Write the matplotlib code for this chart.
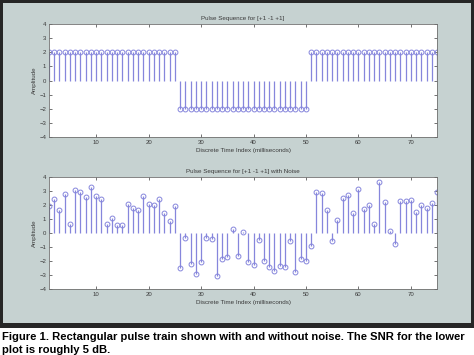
import numpy as np
import matplotlib
matplotlib.use('Agg')
from matplotlib import pyplot as plt
from matplotlib.patches import Rectangle

n = np.arange(1, 76)
clean = [2] * 25 + [-2] * 25 + [2] * 25
noisy = [1.9, 2.45, 1.67, 2.8, 0.64, 3.1, 2.9, 2.55, 3.3, 2.67,
         2.43, 0.64, 1.1, 0.6, 0.6, 2.1, 1.8, 1.67, 2.67, 2.1,
         2.0, 2.43, 1.43, 0.88, 1.95, -2.5, -0.33, -2.2, -2.93, -2.07,
         -0.36, -0.43, -3.05, -1.86, -1.74, 0.29, -1.67, 0.07, -2.1, -2.26,
         -0.48, -2.02, -2.43, -2.74, -2.33, -2.43, -0.55, -2.81, -1.83, -2.02,
         -0.95, 2.93, 2.86, 1.62, -0.6, 0.95, 2.5, 2.74, 1.43, 3.17,
         1.71, 2.02, 0.64, 3.62, 2.21, 0.17, -0.76, 2.26, 2.26, 2.33,
         1.5, 2.02, 1.79, 2.14, 2.93]

titles = ['Pulse Sequence for [+1 -1 +1]', 'Pulse Sequence for [+1 -1 +1] with Noise']
xticks = [10, 20, 30, 40, 50, 60, 70]
yticks = [-4, -3, -2, -1, 0, 1, 2, 3, 4]

plt.rcParams['font.family'] = ['Liberation Sans', 'DejaVu Sans']
fig = plt.figure(figsize=(4.74, 3.55), dpi=100)
fig.patch.set_facecolor('white')

# dark frame and grey figure panel of the scan
fig.add_artist(Rectangle((0, 0.076), 1, 0.924, transform=fig.transFigure,
                         facecolor='#262626', edgecolor='none', zorder=-2))
fig.add_artist(Rectangle((3 / 474, 0.0901), 468 / 474, 320 / 355, transform=fig.transFigure,
                         facecolor='#c6d2d1', edgecolor='none', zorder=-1))

stem_col = '#8686dc'
txt_col = '#3a3a3a'
positions = [[0.1034, 0.614, 0.8186, 0.318], [0.1034, 0.186, 0.8186, 0.3155]]

for pos, data, title in zip(positions, [clean, noisy], titles):
    ax = fig.add_axes(pos)
    ax.set_facecolor('white')
    ml, sl, bl = ax.stem(n, data, linefmt='-', markerfmt='o', basefmt=' ')
    plt.setp(sl, color=stem_col, linewidth=0.9)
    plt.setp(ml, markerfacecolor='none', markeredgecolor=stem_col,
             markersize=3.5, markeredgewidth=0.7)
    ax.set_xlim(1, 75)
    ax.set_ylim(-4, 4)
    ax.set_xticks(xticks)
    ax.set_yticks(yticks)
    ax.tick_params(direction='in', length=2, width=0.5, labelsize=4.3,
                   colors=txt_col, top=True, right=True, pad=2)
    for s in ax.spines.values():
        s.set_color('#707070')
        s.set_linewidth(0.6)
    ax.set_title(title, fontsize=4.5, color=txt_col, pad=3)
    ax.set_xlabel('Discrete Time Index (milliseconds)', fontsize=4.5, color=txt_col, labelpad=2)
    ax.set_ylabel('Amplitude', fontsize=4.5, color=txt_col, labelpad=2)

fig.text(0.004, 0.051, 'Figure 1. Rectangular pulse train shown with and without noise. The SNR for the lower',
         fontsize=8.1, fontweight='bold', ha='left', va='center', color='black')
fig.text(0.004, 0.014, 'plot is roughly 5 dB.',
         fontsize=8.1, fontweight='bold', ha='left', va='center', color='black')

fig.savefig('out.png', dpi=100, facecolor=fig.get_facecolor())
